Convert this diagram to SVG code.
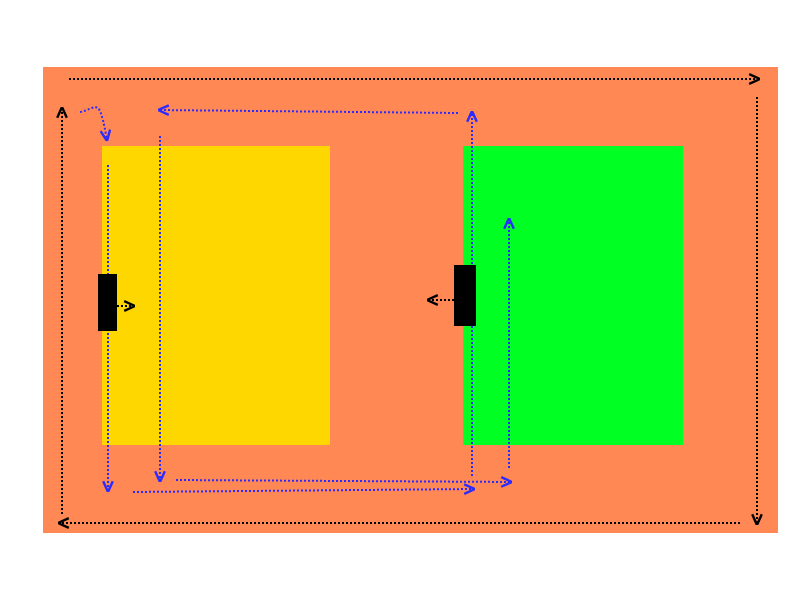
<svg xmlns="http://www.w3.org/2000/svg" width="800" height="600" viewBox="0 0 800 600">
  <style>
    .blk { fill: none; stroke: #000000; stroke-width: 2; stroke-dasharray: 2 2; }
    .blu { fill: none; stroke: #2b2bff; stroke-width: 2; stroke-dasharray: 2 2; }
  </style>
  <defs>
    <marker id="ab" viewBox="0 0 10 10" refX="10" refY="5" markerWidth="12" markerHeight="12" markerUnits="userSpaceOnUse" orient="auto">
      <path d="M1,1 L10,5 L1,9" fill="none" stroke="#000000" stroke-width="2"/>
    </marker>
    <marker id="au" viewBox="0 0 10 10" refX="10" refY="5" markerWidth="12" markerHeight="12" markerUnits="userSpaceOnUse" orient="auto">
      <path d="M1,1 L10,5 L1,9" fill="none" stroke="#2b2bff" stroke-width="2"/>
    </marker>
  </defs>
  <rect width="800" height="600" fill="#ffffff"/>
  <g id="outer">
    <rect x="43" y="67" width="735" height="466" fill="#ff8855"/>
  </g>
  <g id="yellow">
    <rect x="102" y="146" width="228" height="299" fill="#ffd700"/>
  </g>
  <g id="green">
    <rect x="463" y="146" width="220" height="299" fill="#00ff22"/>
  </g>
  <g id="connectors">
    <path class="blk" d="M69,79 L760,79" marker-end="url(#ab)"/>
    <path class="blk" d="M757,97 L757,525" marker-end="url(#ab)"/>
    <path class="blk" d="M740,523 L58,523" marker-end="url(#ab)"/>
    <path class="blk" d="M62,514 L62,107" marker-end="url(#ab)"/>
    <path class="blk" d="M117,306 L135,306" marker-end="url(#ab)"/>
    <path class="blk" d="M454,300 L427,300" marker-end="url(#ab)"/>
    <path class="blu" d="M80,112 C88,111 94,105 98,108 C102,112 105,128 107,141" marker-end="url(#au)"/>
    <path class="blu" d="M458,113 L158,110" marker-end="url(#au)"/>
    <path class="blu" d="M160,136 L160,482" marker-end="url(#au)"/>
    <path class="blu" d="M108,165 L108,492" marker-end="url(#au)"/>
    <path class="blu" d="M133,492 L475,489" marker-end="url(#au)"/>
    <path class="blu" d="M176,480 L512,482" marker-end="url(#au)"/>
    <path class="blu" d="M472,476 L472,111" marker-end="url(#au)"/>
    <path class="blu" d="M509,468 L509,218" marker-end="url(#au)"/>
  </g>
  <g id="portLeft">
    <rect x="98" y="274" width="19" height="57" fill="#000000"/>
  </g>
  <g id="portRight">
    <rect x="454" y="265" width="22" height="61" fill="#000000"/>
  </g>
</svg>
